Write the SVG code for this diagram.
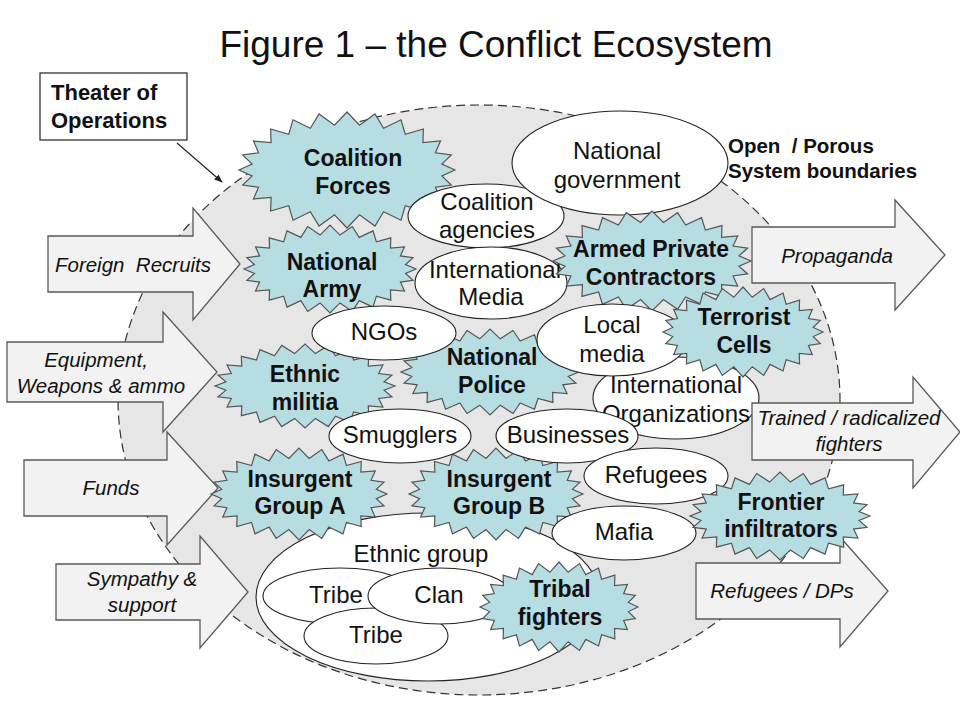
<svg xmlns="http://www.w3.org/2000/svg" xmlns:xlink="http://www.w3.org/1999/xlink" width="960" height="720" viewBox="0 0 960 720">
<style>
.bg{fill:#ffffff}
.theater{fill:#e6e6e6;stroke:#333333;stroke-width:1.2;stroke-dasharray:9 5}
.burst{fill:#b6dde1;stroke:#555555}
.oval{fill:#ffffff;stroke:#222222;stroke-width:1.1}
.flow{fill:#f2f2f2;stroke:#595959;stroke-width:1.3}
.b{font-family:"Liberation Sans",Arial,sans-serif;font-weight:bold;font-size:23px;fill:#111;text-anchor:middle}
.r{font-family:"Liberation Sans",Arial,sans-serif;font-size:24px;fill:#111;text-anchor:middle}
.i{font-family:"Liberation Sans",Arial,sans-serif;font-style:italic;font-size:20.5px;fill:#111;text-anchor:middle;white-space:pre}
.title{font-family:"Liberation Sans",Arial,sans-serif;font-size:37px;fill:#111;text-anchor:middle}
.lbl{font-family:"Liberation Sans",Arial,sans-serif;font-weight:bold;fill:#111;white-space:pre}
.ptr{stroke:#222;stroke-width:1.2;fill:none}
</style>
<defs>
<polygon id="burst" vector-effect="non-scaling-stroke" stroke-width="1.2" points="1,0 .8784,.1016 .9659,.2588 .8186,.2977 .866,.5 .7029,.4736 .7071,.7071 .5394,.6172 .5,.866 .3391,.7188 .2588,.9659 .1156,.7713 0,1 -.1156,.7713 -.2588,.9659 -.3391,.7188 -.5,.866 -.5394,.6172 -.7071,.7071 -.7029,.4736 -.866,.5 -.8186,.2977 -.9659,.2588 -.8784,.1016 -1,0 -.8784,-.1016 -.9659,-.2588 -.8186,-.2977 -.866,-.5 -.7029,-.4736 -.7071,-.7071 -.5394,-.6172 -.5,-.866 -.3391,-.7188 -.2588,-.9659 -.1156,-.7713 0,-1 .1156,-.7713 .2588,-.9659 .3391,-.7188 .5,-.866 .5394,-.6172 .7071,-.7071 .7029,-.4736 .866,-.5 .8186,-.2977 .9659,-.2588 .8784,-.1016"/>
<marker id="arrowhead" viewBox="0 0 10 10" refX="9" refY="5" markerWidth="7" markerHeight="7" orient="auto">
<path d="M0,1 L10,5 L0,9 z" fill="#222"/>
</marker>
</defs>
<rect class="bg" x="0" y="0" width="960" height="720"/>

<g id="theater-of-operations">
<ellipse class="theater" cx="479" cy="400" rx="361" ry="295"/>
</g>

<g id="international-organizations">
<ellipse class="oval" cx="676" cy="398" rx="83" ry="41"/>
<text class="r" x="676" y="393">International</text>
<text class="r" x="676" y="422">Organizations</text>
</g>

<g id="in-foreign-recruits">
<polygon class="flow" points="48,236 193,236 193,208 240,264 193,320 193,292 48,292"/>
<text class="i" x="133" y="272" xml:space="preserve">Foreign  Recruits</text>
</g>
<g id="in-equipment">
<polygon class="flow" points="7,342 163,342 163,312 217,372 163,432 163,402 7,402"/>
<text class="i" x="96" y="367">Equipment,</text>
<text class="i" x="101" y="393">Weapons &amp; ammo</text>
</g>
<g id="in-funds">
<polygon class="flow" points="24,460 167,460 167,432 218,488 167,545 167,516 24,516"/>
<text class="i" x="111" y="495">Funds</text>
</g>
<g id="in-sympathy">
<polygon class="flow" points="56,564 200,564 200,536 248,592 200,648 200,620 56,620"/>
<text class="i" x="142" y="586">Sympathy &amp;</text>
<text class="i" x="142" y="612">support</text>
</g>
<g id="out-propaganda">
<polygon class="flow" points="752,227 895,227 895,200 945,255 895,310 895,283 752,283"/>
<text class="i" x="837" y="263">Propaganda</text>
</g>
<g id="out-trained-fighters">
<polygon class="flow" points="752,403 913,403 913,377 960,432 913,488 913,460 752,460"/>
<text class="i" x="849" y="425">Trained / radicalized</text>
<text class="i" x="849" y="451">fighters</text>
</g>
<g id="out-refugees">
<polygon class="flow" points="696,563 840,563 840,537 888,591 840,647 840,619 696,619"/>
<text class="i" x="782" y="598">Refugees / DPs</text>
</g>

<g id="coalition-forces">
<use xlink:href="#burst" class="burst" transform="translate(347 170) scale(108 58)"/>
<text class="b" x="353" y="166">Coalition</text>
<text class="b" x="353" y="194">Forces</text>
</g>
<g id="national-army">
<use xlink:href="#burst" class="burst" transform="translate(330 269) scale(86 44)"/>
<text class="b" x="332" y="270">National</text>
<text class="b" x="332" y="297">Army</text>
</g>
<g id="coalition-agencies">
<ellipse class="oval" cx="486" cy="216" rx="78" ry="32"/>
<text class="r" x="487" y="210">Coalition</text>
<text class="r" x="487" y="238">agencies</text>
</g>
<g id="national-government">
<ellipse class="oval" cx="620" cy="163" rx="108" ry="52"/>
<text class="r" x="617" y="159">National</text>
<text class="r" x="617" y="188">government</text>
</g>
<g id="international-media">
<ellipse class="oval" cx="491" cy="283" rx="76" ry="36"/>
<text class="r" x="495" y="278">International</text>
<text class="r" x="491" y="305">Media</text>
</g>
<g id="armed-private-contractors">
<use xlink:href="#burst" class="burst" transform="translate(652 261) scale(99 50)"/>
<text class="b" x="651" y="257">Armed Private</text>
<text class="b" x="651" y="285">Contractors</text>
</g>
<g id="ethnic-militia">
<use xlink:href="#burst" class="burst" transform="translate(305 386) scale(90 42)"/>
<text class="b" x="305" y="382">Ethnic</text>
<text class="b" x="305" y="410">militia</text>
</g>
<g id="national-police">
<use xlink:href="#burst" class="burst" transform="translate(490 372) scale(89 43)"/>
<text class="b" x="492" y="365">National</text>
<text class="b" x="492" y="393">Police</text>
</g>
<g id="local-media">
<ellipse class="oval" cx="612" cy="340" rx="75" ry="36"/>
<text class="r" x="612" y="333">Local</text>
<text class="r" x="612" y="362">media</text>
</g>
<g id="terrorist-cells">
<use xlink:href="#burst" class="burst" transform="translate(743 332) scale(80 45)"/>
<text class="b" x="744" y="325">Terrorist</text>
<text class="b" x="744" y="353">Cells</text>
</g>
<g id="ngos">
<ellipse class="oval" cx="384" cy="333" rx="72" ry="27"/>
<text class="r" x="384" y="340">NGOs</text>
</g>

<g id="ethnic-group">
<ellipse class="oval" cx="428" cy="597" rx="172" ry="84"/>
<text class="r" x="421" y="562">Ethnic group</text>
</g>
<g id="tribe-1">
<ellipse class="oval" cx="340" cy="596" rx="77" ry="28"/>
<text class="r" x="336" y="603">Tribe</text>
</g>
<g id="tribe-2">
<ellipse class="oval" cx="376" cy="636" rx="72" ry="28"/>
<text class="r" x="376" y="643">Tribe</text>
</g>
<g id="clan">
<ellipse class="oval" cx="440" cy="596" rx="72" ry="28"/>
<text class="r" x="439" y="603">Clan</text>
</g>
<g id="tribal-fighters">
<use xlink:href="#burst" class="burst" transform="translate(559 607) scale(79 45)"/>
<text class="b" x="560" y="597">Tribal</text>
<text class="b" x="560" y="625">fighters</text>
</g>

<g id="insurgent-group-a">
<use xlink:href="#burst" class="burst" transform="translate(299 494) scale(88 46)"/>
<text class="b" x="300" y="487">Insurgent</text>
<text class="b" x="300" y="514">Group A</text>
</g>
<g id="insurgent-group-b">
<use xlink:href="#burst" class="burst" transform="translate(496 494) scale(87 46)"/>
<text class="b" x="499" y="487">Insurgent</text>
<text class="b" x="499" y="514">Group B</text>
</g>
<g id="smugglers">
<ellipse class="oval" cx="400" cy="436" rx="71" ry="27"/>
<text class="r" x="400" y="443">Smugglers</text>
</g>
<g id="businesses">
<ellipse class="oval" cx="567" cy="436" rx="71" ry="27"/>
<text class="r" x="568" y="443">Businesses</text>
</g>
<g id="refugees">
<ellipse class="oval" cx="656" cy="476" rx="72" ry="28"/>
<text class="r" x="656" y="483">Refugees</text>
</g>
<g id="mafia">
<ellipse class="oval" cx="624" cy="533" rx="72" ry="27"/>
<text class="r" x="624" y="540">Mafia</text>
</g>
<g id="frontier-infiltrators">
<use xlink:href="#burst" class="burst" transform="translate(780 516) scale(90 44)"/>
<text class="b" x="781" y="510">Frontier</text>
<text class="b" x="781" y="537">infiltrators</text>
</g>

<g id="connectors">
<line class="ptr" x1="177" y1="143" x2="222" y2="182" marker-end="url(#arrowhead)"/>
</g>

<g id="title">
<text class="title" x="496" y="57">Figure 1 – the Conflict Ecosystem</text>
</g>
<g id="label-theater">
<rect x="40" y="73" width="147" height="67" fill="#ffffff" stroke="#222" stroke-width="1.2"/>
<text class="lbl" x="51" y="100" font-size="22">Theater of</text>
<text class="lbl" x="51" y="128" font-size="22">Operations</text>
</g>
<g id="label-boundaries">
<text class="lbl" x="728" y="153" font-size="20.5" xml:space="preserve">Open  / Porous</text>
<text class="lbl" x="728" y="178" font-size="20.5">System boundaries</text>
</g>
</svg>
